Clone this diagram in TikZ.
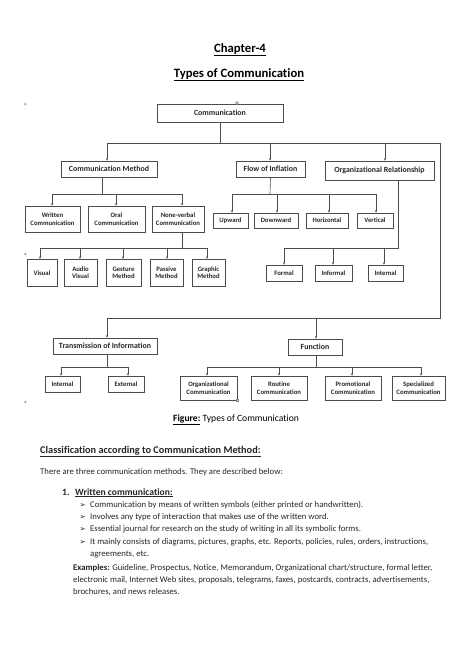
\documentclass[tikz,border=0pt]{standalone}
\usepackage{fontspec}
\setmainfont[Ligatures=NoCommon]{Carlito}
\newfontfamily\dejavu{DejaVu Sans}
\usetikzlibrary{arrows.meta}
\begin{document}
\begin{tikzpicture}[x=1pt,y=-1pt,
  bx/.style={draw=black!70,line width=0.6pt,rectangle,inner sep=0,align=center,text=black!85},
  big/.style={bx,font=\fontsize{7.9}{8.5}\selectfont\bfseries},
  sml/.style={bx,font=\fontsize{6.7}{7.6}\selectfont\bfseries},
  ln/.style={draw=black!70,line width=0.6pt},
  ar/.style={ln,-{Stealth[length=2.6pt,width=2.2pt]}},
  txt/.style={anchor=base west,inner sep=0,text=black!85,font=\fontsize{8.7}{10}\selectfont},
  tickmark/.style={fill=black!45,draw=none}]
\useasboundingbox (0,0) rectangle (474,670);
\fill[white] (0,0) rectangle (474,670);
% titles
\node[anchor=base,inner sep=0,font=\fontsize{12.7}{14}\selectfont\bfseries] (t1) at (240,52) {\underline{Chapter-4}};
\node[anchor=base,inner sep=0,font=\fontsize{12.7}{14}\selectfont\bfseries] (t2) at (239,77) {\underline{Types of Communication}};
% boxes
\node[big,minimum width=126,minimum height=18] (comm) at (220,113) {Communication};
\node[big,minimum width=96,minimum height=16] (cm) at (109,169) {Communication Method};
\node[big,minimum width=69,minimum height=16] (flow) at (270.5,169) {Flow of Inflation};
\node[big,minimum width=109,minimum height=19] (org) at (379.5,170.5) {Organizational Relationship};
\node[sml,minimum width=55,minimum height=26] (wr) at (52.5,219) {Written\\Communication};
\node[sml,minimum width=57,minimum height=26] (oral) at (116.5,219) {Oral\\Communication};
\node[sml,minimum width=52,minimum height=26] (nv) at (178,219) {None-verbal\\Communication};
\node[sml,minimum width=35,minimum height=15] (up) at (230.5,220.5) {Upward};
\node[sml,minimum width=44,minimum height=15] (down) at (276,220.5) {Downward};
\node[sml,minimum width=42,minimum height=15] (hor) at (327,220.5) {Horizontal};
\node[sml,minimum width=36,minimum height=15] (ver) at (375,220.5) {Vertical};
\node[sml,minimum width=36,minimum height=16] (formal) at (284,273) {Formal};
\node[sml,minimum width=37,minimum height=16] (informal) at (333.5,273) {Informal};
\node[sml,minimum width=35,minimum height=16] (intB) at (385.5,273) {Internal};
\node[sml,minimum width=30,minimum height=27,anchor=north] (vis) at (42,259) {Visual};
\node[sml,minimum width=33,minimum height=27,anchor=north] (aud) at (80.5,259) {Audio\\Visual};
\node[sml,minimum width=35,minimum height=27,anchor=north] (ges) at (123.5,259) {Gesture\\Method};
\node[sml,minimum width=33,minimum height=27,anchor=north] (pas) at (166.5,259) {Passive\\Method};
\node[sml,minimum width=33,minimum height=27,anchor=north] (gra) at (208.5,259) {Graphic\\Method};
\node[big,minimum width=104,minimum height=16] (trans) at (105,346) {Transmission of Information};
\node[big,minimum width=54,minimum height=16] (func) at (315,347) {Function};
\node[sml,minimum width=35,minimum height=16] (intA) at (62.5,384) {Internal};
\node[sml,minimum width=36,minimum height=16] (ext) at (126,384) {External};
\node[sml,minimum width=57,minimum height=24] (orgc) at (208.5,388) {Organizational\\Communication};
\node[sml,minimum width=56,minimum height=24] (rout) at (279,388) {Routine\\Communication};
\node[sml,minimum width=56,minimum height=24] (promo) at (353,388) {Promotional\\Communication};
\node[sml,minimum width=53,minimum height=24] (spec) at (418.5,388) {Specialized\\Communication};
% bus coordinates
\coordinate (c0) at (220,143);
\coordinate (cL) at (107,143);
\coordinate (cF) at (270,143);
\coordinate (cO) at (385,143);
\coordinate (cR) at (440,143);
\coordinate (cRb) at (440,318);
\coordinate (cT) at (107,318);
\coordinate (cFn) at (316,318);
% top level
\draw[ln] (comm.south) -- (c0);
\draw[ln] (cL) -- (cR) -- (cRb) -- (cT);
\draw[ar] (cL) -- (cL |- cm.north);
\draw[ar] (cF) -- (cF |- flow.north);
\draw[ar] (cO) -- (cO |- org.north);
\draw[ar] (cT) -- (cT |- trans.north);
\draw[ar] (cFn) -- (cFn |- func.north);
% communication method
\coordinate (m0) at (102,194);
\coordinate (m1) at (52,194);
\coordinate (m2) at (116,194);
\coordinate (m3) at (182,194);
\draw[ln] (m0 |- cm.south) -- (m0);
\draw[ln] (m1) -- (m3);
\draw[ar] (m1) -- (m1 |- wr.north);
\draw[ar] (m2) -- (m2 |- oral.north);
\draw[ar] (m3) -- (m3 |- nv.north);
% flow
\coordinate (f0) at (270,194);
\coordinate (f1) at (232,194);
\coordinate (f2) at (277,194);
\coordinate (f3) at (329,194);
\coordinate (f4) at (376,194);
\draw[ln] (flow.south) -- (f0);
\draw[ln] (f1) -- (f4);
\draw[ar] (f1) -- (f1 |- up.north);
\draw[ar] (f2) -- (f2 |- down.north);
\draw[ar] (f3) -- (f3 |- hor.north);
\draw[ar] (f4) -- (f4 |- ver.north);
% organizational relationship
\coordinate (o0) at (398,248);
\coordinate (o1) at (284,248);
\coordinate (o2) at (333,248);
\coordinate (o3) at (384,248);
\draw[ln] (o0 |- org.south) -- (o0) -- (o1);
\draw[ar] (o1) -- (o1 |- formal.north);
\draw[ar] (o2) -- (o2 |- informal.north);
\draw[ar] (o3) -- (o3 |- intB.north);
% non-verbal
\coordinate (n0) at (182,248);
\coordinate (n1) at (40,248);
\coordinate (n2) at (80,248);
\coordinate (n3) at (123,248);
\coordinate (n4) at (167,248);
\coordinate (n5) at (207,248);
\draw[ln] (n0 |- nv.south) -- (n0);
\draw[ln] (n1) -- (n5);
\draw[ar] (n1) -- (n1 |- vis.north);
\draw[ar] (n2) -- (n2 |- aud.north);
\draw[ar] (n3) -- (n3 |- ges.north);
\draw[ar] (n4) -- (n4 |- pas.north);
\draw[ar] (n5) -- (n5 |- gra.north);
% transmission
\coordinate (r0) at (107,367);
\coordinate (r1) at (61,367);
\coordinate (r2) at (128,367);
\draw[ln] (r0 |- trans.south) -- (r0);
\draw[ln] (r1) -- (r2);
\draw[ar] (r1) -- (r1 |- intA.north);
\draw[ar] (r2) -- (r2 |- ext.north);
% function
\coordinate (u0) at (316,367);
\coordinate (u1) at (207,367);
\coordinate (u2) at (279,367);
\coordinate (u3) at (352,367);
\coordinate (u4) at (421,367);
\draw[ln] (u0 |- func.south) -- (u0);
\draw[ln] (u1) -- (u4);
\draw[ar] (u1) -- (u1 |- orgc.north);
\draw[ar] (u2) -- (u2 |- rout.north);
\draw[ar] (u3) -- (u3 |- promo.north);
\draw[ar] (u4) -- (u4 |- spec.north);
% small marks
\fill[tickmark] (24.5,102.5) -- (26.5,104) -- (24.5,105.5) -- cycle;
\fill[tickmark] (24.5,252.5) -- (26.5,254) -- (24.5,255.5) -- cycle;
\fill[tickmark] (24.5,400.5) -- (26.5,402) -- (24.5,403.5) -- cycle;
\draw[blue!50!black!50,line width=0.5pt,fill=blue!20] (237,103) circle (1.6pt);
\draw[blue!50!black!50,line width=0.5pt,fill=blue!20] (235.8,398.8) rectangle (238.2,401.2);
% caption
\node[anchor=base west,inner sep=0,font=\fontsize{9.6}{11}\selectfont] (cap) at (173,421) {\underline{\textbf{Figure:}} Types of Communication};
% text
\node[txt,font=\fontsize{10.3}{12}\selectfont\bfseries] (h1) at (40,453) {\underline{Classification according to Communication Method:}};
\node[txt] (p1) at (40,474) {There are three communication methods. They are described below:};
\node[txt,font=\fontsize{9.6}{11}\selectfont\bfseries] (n1t) at (62,495) {1.};
\node[txt,font=\fontsize{9.6}{11}\selectfont\bfseries] (w1) at (75,495) {\underline{Written communication:}};
\foreach \yy/\ttx in {507/{Communication by means of written symbols (either printed or handwritten).},
  519/{Involves any type of interaction that makes use of the written word.},
  531/{Essential journal for research on the study of writing in all its symbolic forms.},
  544/{It mainly consists of diagrams, pictures, graphs, etc. Reports, policies, rules, orders, instructions,}}{
  \node[txt,font=\fontsize{7.5}{8}\selectfont\dejavu] at (79.5,\yy) {➢};
  \node[txt] at (90,\yy) {\ttx};
}
\node[txt] (p2) at (90,556) {agreements, etc.};
\node[txt] (e1) at (73,570) {\textbf{Examples:} Guideline, Prospectus, Notice, Memorandum, Organizational chart/structure, formal letter,};
\node[txt] (e2) at (73,582) {electronic mail, Internet Web sites, proposals, telegrams, faxes, postcards, contracts, advertisements,};
\node[txt] (e3) at (73,594) {brochures, and news releases.};
\end{tikzpicture}
\end{document}
